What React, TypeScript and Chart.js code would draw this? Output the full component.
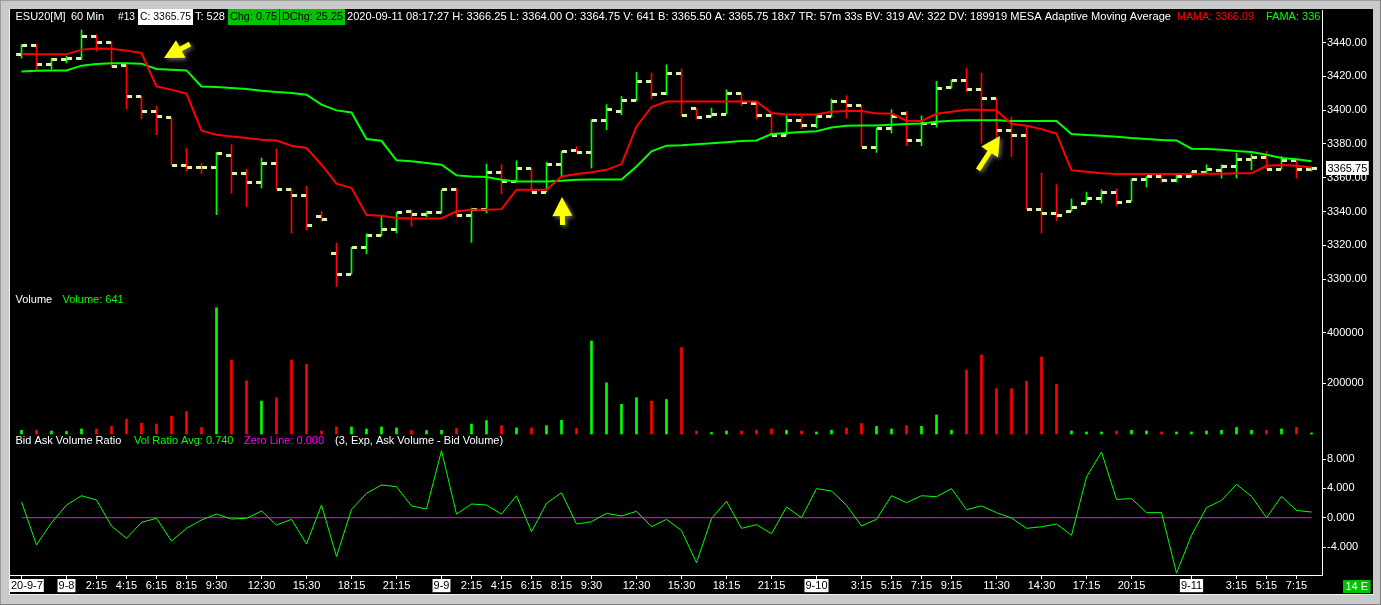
import React, { useEffect, useRef } from "react";
import { Chart, registerables } from "chart.js";

Chart.register(...registerables);

const W = 1381;
const H = 605;
const FONT = "'Liberation Sans', Arial, Helvetica, sans-serif";

// ---------- categories (60 min bars) ----------
const barTimes = [
  "21:15", "22:15", "23:15",
  "0:15", "1:15", "2:15", "3:15", "4:15", "5:15", "6:15", "7:15", "8:15", "9:15", "9:30", "10:30", "11:30", "12:30", "13:30", "14:30", "15:30", "16:15", "17:15", "18:15", "19:15", "20:15", "21:15", "22:15", "23:15",
  "0:15", "1:15", "2:15", "3:15", "4:15", "5:15", "6:15", "7:15", "8:15", "9:15", "9:30", "10:30", "11:30", "12:30", "13:30", "14:30", "15:30", "16:15", "17:15", "18:15", "19:15", "20:15", "21:15", "22:15", "23:15",
  "0:15", "1:15", "2:15", "3:15", "4:15", "5:15", "6:15", "7:15", "8:15", "9:15", "9:30", "10:30", "11:30", "12:30", "13:30", "14:30", "15:30", "16:15", "17:15", "18:15", "19:15", "20:15", "21:15", "22:15", "23:15",
  "0:15", "1:15", "2:15", "3:15", "4:15", "5:15", "6:15", "7:15", "8:15",
];
const sessionStartIdx = [0, 3, 28, 53, 78];
const sessionLabels = ["20-9-7", "9-8", "9-9", "9-10", "9-11"];
const labeledIdx = [0, 3, 5, 7, 9, 11, 13, 16, 19, 22, 25, 28, 30, 32, 34, 36, 38, 41, 44, 47, 50, 53, 56, 58, 60, 62, 65, 68, 71, 74, 78, 81, 83, 85];

// ---------- OHLC ----------
const openP = [
  3432.9, 3438.2, 3427.0, 3430.3, 3430.9, 3443.7, 3440.4, 3426.4, 3408.2, 3399.1,
  3395.4, 3367.5, 3366.0, 3365.9, 3373.2, 3362.8, 3357.4, 3368.3, 3353.3, 3349.3,
  3337.1, 3315.4, 3302.9, 3318.9, 3325.6, 3329.6, 3340.1, 3338.1, 3339.5, 3352.9,
  3337.5, 3341.0, 3363.4, 3357.8, 3365.7, 3351.5, 3368.1, 3376.0, 3375.2, 3393.8,
  3399.5, 3405.6, 3417.3, 3409.8, 3422.0, 3401.3, 3396.0, 3397.7, 3410.2, 3404.2,
  3397.1, 3385.3, 3393.8, 3391.2, 3396.0, 3405.2, 3402.7, 3378.2, 3389.4, 3398.3,
  3381.9, 3392.0, 3413.7, 3417.5, 3412.1, 3407.2, 3387.9, 3384.9, 3341.4, 3339.1,
  3340.1, 3345.0, 3348.0, 3351.5, 3346.0, 3359.2, 3360.8, 3358.2, 3360.8, 3363.2,
  3364.0, 3366.7, 3370.9, 3371.7, 3365.1, 3370.1, 3364.75,
];
const highP = [
  3438.8, 3438.8, 3430.9, 3431.9, 3447.5, 3444.7, 3440.6, 3426.8, 3408.2, 3402.3,
  3395.6, 3377.6, 3368.7, 3375.0, 3379.6, 3365.1, 3371.7, 3377.0, 3353.5, 3354.9,
  3340.1, 3321.3, 3318.9, 3326.8, 3337.1, 3339.5, 3341.0, 3339.9, 3352.9, 3353.9,
  3342.0, 3368.1, 3367.7, 3370.1, 3365.7, 3369.1, 3375.6, 3378.6, 3394.4, 3403.3,
  3408.2, 3422.4, 3422.0, 3426.9, 3424.4, 3401.3, 3401.3, 3412.1, 3410.2, 3405.2,
  3398.3, 3396.7, 3396.7, 3396.7, 3406.6, 3408.6, 3403.3, 3389.4, 3400.3, 3399.3,
  3396.7, 3417.1, 3418.0, 3425.0, 3422.0, 3407.2, 3396.0, 3390.4, 3362.8, 3355.9,
  3347.4, 3351.5, 3352.9, 3353.3, 3359.2, 3360.8, 3362.8, 3361.6, 3363.6, 3367.7,
  3367.7, 3374.6, 3374.0, 3375.6, 3372.6, 3370.1, 3366.25,
];
const lowP = [
  3430.9, 3424.4, 3424.4, 3428.0, 3430.0, 3434.9, 3425.8, 3400.7, 3394.8, 3385.5,
  3367.5, 3363.8, 3362.4, 3338.1, 3350.9, 3343.0, 3353.9, 3353.3, 3327.2, 3329.2,
  3334.1, 3295.6, 3302.9, 3315.0, 3325.6, 3327.2, 3331.2, 3337.0, 3339.0, 3337.1,
  3321.7, 3339.1, 3350.5, 3357.8, 3351.5, 3351.5, 3360.8, 3375.0, 3365.7, 3388.4,
  3397.3, 3405.6, 3406.6, 3409.2, 3396.7, 3394.8, 3396.0, 3397.7, 3402.7, 3394.8,
  3385.0, 3385.3, 3389.2, 3389.5, 3396.0, 3395.4, 3378.2, 3375.0, 3386.5, 3379.0,
  3379.0, 3390.0, 3413.0, 3411.2, 3380.5, 3383.5, 3372.6, 3341.4, 3327.2, 3334.7,
  3340.1, 3345.0, 3345.0, 3343.4, 3346.0, 3354.5, 3357.4, 3357.4, 3360.4, 3362.8,
  3359.8, 3359.8, 3364.7, 3365.1, 3365.1, 3359.8, 3364.0,
];
const closeP = [
  3438.2, 3427.0, 3430.3, 3430.9, 3443.4, 3440.4, 3426.0, 3408.2, 3399.1, 3396.0,
  3367.5, 3366.3, 3365.8, 3374.2, 3362.8, 3356.9, 3368.3, 3353.3, 3349.3, 3332.0,
  3335.5, 3302.9, 3318.9, 3325.6, 3329.6, 3339.5, 3338.1, 3339.5, 3352.9, 3337.5,
  3341.0, 3363.4, 3357.8, 3365.7, 3351.5, 3368.1, 3375.6, 3375.2, 3393.8, 3400.3,
  3405.6, 3417.3, 3409.2, 3422.0, 3396.7, 3395.4, 3397.7, 3410.2, 3404.6, 3397.1,
  3385.3, 3393.8, 3391.2, 3396.3, 3405.2, 3402.7, 3378.2, 3389.4, 3396.3, 3381.9,
  3392.0, 3413.1, 3417.5, 3412.1, 3407.2, 3387.9, 3384.9, 3341.4, 3339.1, 3337.7,
  3342.2, 3347.6, 3351.5, 3345.6, 3359.2, 3360.8, 3358.2, 3360.8, 3363.6, 3364.8,
  3366.7, 3370.9, 3371.7, 3365.1, 3370.1, 3365.1, 3365.75,
];

// ---------- MESA adaptive moving average ----------
const mama = [
  3433.5, 3433.1, 3433.1, 3433.1, 3435.9, 3436.6, 3436.4, 3435.3, 3433.9, 3414.1,
  3412.2, 3409.8, 3387.9, 3385.5, 3384.5, 3383.5, 3382.5, 3382.1, 3379.0, 3377.6,
  3367.7, 3356.5, 3353.9, 3337.9, 3337.5, 3336.1, 3335.9, 3335.9, 3335.9, 3340.1,
  3341.0, 3341.0, 3341.4, 3352.9, 3352.9, 3352.9, 3360.8, 3362.2, 3363.2, 3364.7,
  3368.1, 3390.4, 3401.9, 3405.2, 3405.2, 3405.2, 3405.2, 3405.2, 3405.2, 3405.2,
  3398.3, 3397.5, 3397.5, 3397.5, 3399.1, 3399.5, 3399.5, 3398.1, 3398.1, 3393.8,
  3393.6, 3397.9, 3399.1, 3400.3, 3400.3, 3399.9, 3392.0, 3390.8, 3388.8, 3386.1,
  3364.4, 3363.6, 3362.6, 3362.2, 3362.2, 3362.2, 3362.2, 3362.2, 3362.2, 3362.3,
  3362.4, 3362.6, 3362.6, 3367.1, 3367.5, 3367.1, 3366.09,
];
const fama = [
  3423.0, 3423.4, 3423.6, 3423.6, 3426.4, 3427.4, 3427.8, 3427.8, 3427.6, 3424.4,
  3424.0, 3423.6, 3414.1, 3413.7, 3413.1, 3412.5, 3411.6, 3410.8, 3410.2, 3409.2,
  3403.3, 3399.9, 3398.7, 3382.9, 3381.9, 3370.3, 3369.7, 3368.7, 3367.7, 3361.4,
  3360.8, 3360.4, 3358.8, 3357.8, 3357.8, 3357.8, 3358.2, 3358.8, 3359.0, 3359.0,
  3359.0, 3366.7, 3375.6, 3379.0, 3379.2, 3379.8, 3380.4, 3381.0, 3381.7, 3382.1,
  3385.9, 3386.5, 3387.1, 3387.5, 3389.8, 3390.8, 3391.0, 3391.0, 3391.4, 3391.8,
  3392.2, 3393.2, 3393.8, 3394.0, 3394.0, 3394.0, 3393.6, 3393.6, 3393.6, 3393.6,
  3385.9, 3385.3, 3384.9, 3384.3, 3383.5, 3382.9, 3382.3, 3382.1, 3377.2, 3377.0,
  3376.6, 3375.8, 3375.2, 3373.6, 3371.7, 3370.9, 3369.8,
];

// ---------- volume ----------
const volume = [
  15000, 15000, 12000, 10000, 20000, 20000, 30000, 59000, 43000, 39000,
  70000, 89000, 26000, 498000, 292000, 210000, 130000, 143000, 292000, 275000,
  12000, 28000, 28000, 20000, 28000, 24000, 14000, 14000, 15000, 22000,
  39000, 53000, 33000, 24000, 24000, 33000, 54000, 22000, 367000, 202000,
  117000, 143000, 130000, 136000, 341000, 12000, 6000, 12000, 12000, 15000,
  20000, 15000, 12000, 8000, 15000, 24000, 41000, 30000, 20000, 33000,
  30000, 75000, 15000, 252000, 312000, 179000, 179000, 209000, 304000, 196000,
  12000, 8000, 8000, 12000, 15000, 12000, 8000, 8000, 8000, 12000,
  15000, 26000, 15000, 15000, 20000, 26000, 641,
];

// ---------- bid/ask volume ratio ----------
const bidAskRatio = [
  2.18, -3.72, -0.68, 1.73, 3.0, 2.41, -1.13, -2.81, -0.63, -0.08,
  -3.18, -1.45, -0.31, 0.5, -0.18, -0.08, 0.91, -1.0, -0.22, -3.59,
  1.73, -5.3, 1.14, 3.33, 4.46, 4.23, 1.6, 1.19, 9.14, 0.5,
  1.87, 1.73, 0.5, 3.0, -1.91, 1.96, 3.41, -0.86, -0.55, 0.6,
  0.23, 0.87, -1.23, -0.22, -1.75, -6.14, -0.1, 2.23, -1.45, -0.95,
  -2.18, 1.46, 0.0, 3.96, 3.64, 1.68, -1.13, -0.22, 3.0, 2.05,
  3.0, 2.86, 3.96, 1.1, 1.6, 0.69, -0.04, -1.45, -1.23, -0.86,
  -2.4, 5.55, 8.96, 2.5, 2.6, 0.69, 0.69, -7.55, -2.4, 1.37,
  2.36, 4.55, 2.91, 0.0, 2.91, 1.0, 0.77,
];
const ratioZero = 0;

// ---------- axis ticks ----------
const priceTicks = [3300, 3320, 3340, 3360, 3380, 3400, 3420, 3440];
const volumeTicks = [200000, 400000];
const ratioTicks = [-4, 0, 4, 8];

// ---------- header texts ----------
const hdrSymbol = "ESU20[M]";
const hdrInterval = "60 Min";
const hdrBarNo = "#13";
const hdrTicks = "T: 528";
const hdrChg = "Chg: 0.75";
const hdrDChg = "DChg: 25.25";
const hdrInfo = "2020-09-11 08:17:27 H: 3366.25 L: 3364.00 O: 3364.75 V: 641 B: 3365.50 A: 3365.75 18x7 TR: 57m 33s BV: 319 AV: 322 DV: 189919 MESA Adaptive Moving Average";
const volTitle = "Volume";
const ratioTitle = "Bid Ask Volume Ratio";
const ratioAvgText = "Vol Ratio Avg: 0.740";
const ratioZeroText = "Zero Line: 0.000";
const ratioParams = "(3, Exp, Ask Volume - Bid Volume)";
const barCountTag = "14 E";

// ---------- annotation arrows (data coordinates: bar index, price) ----------
const arrowTipIdx = [9.5, 36.03, 65.23];
const arrowTipPrice = [3430.9, 3348.6, 3384.7];
const arrowTailIdx = [11.23, 36.07, 63.77];
const arrowTailPrice = [3439.2, 3332.0, 3364.6];

// ---------- scale ranges (three stacked panels sharing one right-hand column) ----------
const X_MIN = -0.76667;
const X_MAX = 86.7;
const PRICE_MIN = 3293.5;
const PRICE_MAX = 3459.37;
const VOL_MIN = -7890;
const VOL_MAX = 568051;
const RATIO_MIN = -7.81;
const RATIO_MAX = 11.14;
const PANEL_WEIGHTS = [280, 146, 139];

const UP = "#00ff00";
const DOWN = "#ff0000";
const TICK = "#d6f3a6";

function makeSprite(start: number) {
  const c = document.createElement("canvas");
  c.width = 13;
  c.height = 3;
  const g = c.getContext("2d")!;
  g.fillStyle = TICK;
  g.fillRect(start, 0, 5, 3);
  return c;
}

const overlayPlugin = {
  id: "tsOverlay",
  beforeDraw(chart: any) {
    const ctx = chart.ctx;
    ctx.save();
    ctx.fillStyle = "#cacaca";
    ctx.fillRect(0, 0, W, H);
    ctx.fillStyle = "#9c9c9c";
    ctx.fillRect(0, 0, W, 1);
    ctx.fillRect(0, 0, 1, H);
    ctx.fillStyle = "#808080";
    ctx.fillRect(W - 1, 0, 1, H);
    ctx.fillRect(0, H - 1, W, 1);
    ctx.fillStyle = "#f2f2f2";
    ctx.fillRect(9, 9, 1, 586);
    ctx.fillRect(9, 594, 1365, 1);
    ctx.fillStyle = "#000000";
    ctx.fillRect(10, 9, 1363, 585);
    ctx.restore();
  },
  afterDraw(chart: any) {
    const { ctx, chartArea: ca, scales } = chart;
    const xs = scales.x;
    const yp = scales.yPrice;
    const n = closeP.length;
    ctx.save();
    ctx.font = `11px ${FONT}`;
    ctx.textBaseline = "middle";
    ctx.textAlign = "left";

    const txt = (s: string, x: number, c: string, y: number, maxW?: number) => {
      ctx.fillStyle = c;
      if (maxW) ctx.fillText(s, x, y, maxW);
      else ctx.fillText(s, x, y);
    };

    // header row
    ctx.save();
    ctx.beginPath();
    ctx.rect(ca.left, 0, ca.right - ca.left - 1, 40);
    ctx.clip();
    const hy = 17;
    txt(hdrSymbol, 15.5, "#ffffff", hy, 51);
    txt(hdrInterval, 71, "#ffffff", hy, 36);
    txt(hdrBarNo, 118, "#ffffff", hy, 17);
    ctx.fillStyle = "#ffffff";
    ctx.fillRect(138, 9, 55, 16);
    txt(`C: ${closeP[n - 1].toFixed(2)}`, 140, "#000000", hy, 51);
    txt(hdrTicks, 195, "#ffffff", hy, 31);
    ctx.fillStyle = "#00c400";
    ctx.fillRect(228, 9, 51, 16);
    ctx.fillRect(280, 9, 65, 16);
    txt(hdrChg, 230, "#000000", hy, 47);
    txt(hdrDChg, 282, "#000000", hy, 61);
    const infoW = ctx.measureText(hdrInfo).width;
    ctx.save();
    ctx.translate(347, hy);
    ctx.scale(824 / infoW, 1);
    ctx.fillStyle = "#ffffff";
    ctx.fillText(hdrInfo, 0, 0);
    ctx.restore();
    txt(`MAMA: ${mama[n - 1].toFixed(2)}`, 1177, "#ff0000", hy, 77);
    txt(`FAMA: ${fama[n - 1].toFixed(2)}`, 1266, "#00ff00", hy, 77);
    ctx.restore();

    // panel titles
    txt(volTitle, 15.5, "#ffffff", 300);
    txt(`Volume: ${volume[n - 1]}`, 62.5, "#00ff00", 300);
    txt(ratioTitle, 15.5, "#ffffff", 441);
    txt(ratioAvgText, 134, "#00ff00", 441);
    txt(ratioZeroText, 244, "#ff00ff", 441);
    txt(ratioParams, 335, "#ffffff", 441);

    // arrows
    ctx.save();
    ctx.fillStyle = "#ffff00";
    ctx.shadowColor = "rgba(150,150,150,0.7)";
    ctx.shadowBlur = 4;
    ctx.shadowOffsetX = 2;
    ctx.shadowOffsetY = 2;
    for (let k = 0; k < arrowTipIdx.length; k++) {
      const tx = xs.getPixelForValue(arrowTipIdx[k]);
      const ty = yp.getPixelForValue(arrowTipPrice[k]);
      const sx = xs.getPixelForValue(arrowTailIdx[k]);
      const sy = yp.getPixelForValue(arrowTailPrice[k]);
      const len = Math.hypot(tx - sx, ty - sy);
      const ux = (tx - sx) / len;
      const uy = (ty - sy) / len;
      const nx = -uy;
      const ny = ux;
      const hl = 19;
      const hw = 10;
      const sw = 2.5;
      const bx = tx - ux * hl;
      const by = ty - uy * hl;
      ctx.beginPath();
      ctx.moveTo(tx, ty);
      ctx.lineTo(bx + nx * hw, by + ny * hw);
      ctx.lineTo(bx + nx * sw, by + ny * sw);
      ctx.lineTo(sx + nx * sw, sy + ny * sw);
      ctx.lineTo(sx - nx * sw, sy - ny * sw);
      ctx.lineTo(bx - nx * sw, by - ny * sw);
      ctx.lineTo(bx - nx * hw, by - ny * hw);
      ctx.closePath();
      ctx.fill();
    }
    ctx.restore();

    // last price marker on the price axis
    const lastY = yp.getPixelForValue(closeP[n - 1]);
    const lastTxt = closeP[n - 1].toFixed(2);
    const lw = ctx.measureText(lastTxt).width;
    ctx.fillStyle = "#ffffff";
    ctx.fillRect(ca.right + 4, Math.round(lastY) - 7, lw + 3, 14);
    txt(lastTxt, ca.right + 5.5, "#000000", lastY + 0.5);

    // first date label (clamped to the plot's left edge)
    const firstLbl = sessionLabels[0];
    const fw = ctx.measureText(firstLbl).width;
    ctx.fillStyle = "#ffffff";
    ctx.fillRect(ca.left, 579, fw + 2, 13);
    txt(firstLbl, ca.left + 1, "#000000", 585.6);

    // bar count tag
    const tw = ctx.measureText(barCountTag).width;
    ctx.fillStyle = "#00c000";
    ctx.fillRect(1343, 580, tw + 5, 13);
    txt(barCountTag, 1345.5, "#ffffff", 586.5);

    ctx.restore();
  },
};

export default function App() {
  const ref = useRef<HTMLCanvasElement | null>(null);

  useEffect(() => {
    const canvas = ref.current;
    if (!canvas) return;
    Chart.defaults.font.family = FONT;
    Chart.defaults.font.size = 11;

    const openSprite = makeSprite(1);
    const closeSprite = makeSprite(7);
    const idx = barTimes.map((_, i) => i);
    const barColors = idx.map((i) => (closeP[i] >= openP[i] ? UP : DOWN));
    const isSession = (v: number) => sessionStartIdx.indexOf(v) >= 0;
    const xLabel = (v: number) => {
      const s = sessionStartIdx.indexOf(v);
      if (v === sessionStartIdx[0]) return "";
      if (s >= 0) return sessionLabels[s];
      return barTimes[v] ?? "";
    };
    const tickFont = { family: FONT, size: 11 };
    const yGrid = { drawOnChartArea: false, drawTicks: true, tickLength: 4, color: "#ffffff" };
    const yBorder = { display: true, color: "#ffffff", width: 1 };
    const fixWidth = (s: any) => {
      s.width = 51;
    };

    const chart = new Chart(canvas, {
      type: "bar",
      data: {
        datasets: [
          {
            type: "line",
            label: "MAMA",
            data: idx.map((i) => ({ x: i, y: mama[i] })),
            yAxisID: "yPrice",
            borderColor: "#ff0000",
            borderWidth: 2,
            pointRadius: 0,
            tension: 0,
            order: 1,
          },
          {
            type: "line",
            label: "FAMA",
            data: idx.map((i) => ({ x: i, y: fama[i] })),
            yAxisID: "yPrice",
            borderColor: "#00ff00",
            borderWidth: 2,
            pointRadius: 0,
            tension: 0,
            order: 2,
          },
          {
            type: "line",
            label: "Open",
            data: idx.map((i) => ({ x: i, y: openP[i] })),
            yAxisID: "yPrice",
            showLine: false,
            pointStyle: openSprite,
            pointRadius: 3,
            pointBorderWidth: 0,
            order: 3,
          },
          {
            type: "line",
            label: "Close",
            data: idx.map((i) => ({ x: i, y: closeP[i] })),
            yAxisID: "yPrice",
            showLine: false,
            pointStyle: closeSprite,
            pointRadius: 3,
            pointBorderWidth: 0,
            order: 3,
          },
          {
            type: "bar",
            label: "High-Low",
            data: idx.map((i) => ({ x: i, y: [lowP[i], highP[i]] })),
            yAxisID: "yPrice",
            backgroundColor: barColors,
            borderWidth: 0,
            barThickness: 1,
            grouped: false,
            order: 4,
          },
          {
            type: "bar",
            label: "Volume",
            data: idx.map((i) => ({ x: i, y: volume[i] })),
            yAxisID: "yVol",
            backgroundColor: barColors,
            borderWidth: 0,
            barThickness: 2,
            minBarLength: 1,
            grouped: false,
            order: 5,
          },
          {
            type: "line",
            label: "Zero Line",
            data: idx.map((i) => ({ x: i, y: ratioZero })),
            yAxisID: "yRatio",
            borderColor: "#ff00ff",
            borderWidth: 1,
            pointRadius: 0,
            order: 7,
          },
          {
            type: "line",
            label: "Bid Ask Volume Ratio",
            data: idx.map((i) => ({ x: i, y: bidAskRatio[i] })),
            yAxisID: "yRatio",
            borderColor: "#00ff00",
            borderWidth: 1,
            pointRadius: 0,
            tension: 0,
            order: 6,
          },
        ],
      } as any,
      options: {
        responsive: false,
        animation: false,
        devicePixelRatio: 1,
        events: [],
        layout: { padding: { left: 10, top: 10, right: 8, bottom: 11 } },
        plugins: {
          legend: { display: false },
          tooltip: { enabled: false },
          title: { display: false },
        },
        scales: {
          x: {
            type: "linear",
            position: "bottom",
            min: X_MIN,
            max: X_MAX,
            offset: false,
            afterFit: (s: any) => {
              s.height = 19;
            },
            afterBuildTicks: (s: any) => {
              s.ticks = labeledIdx.map((v) => ({ value: v }));
            },
            border: { display: true, color: "#ffffff", width: 1 },
            grid: { display: true, offset: false, drawOnChartArea: false, drawTicks: true, tickLength: 4, color: "#ffffff" },
            ticks: {
              autoSkip: false,
              maxRotation: 0,
              minRotation: 0,
              padding: 0,
              font: tickFont,
              color: (c: any) => (isSession(c.tick?.value) ? "#000000" : "#ffffff"),
              showLabelBackdrop: true,
              backdropColor: (c: any) =>
                isSession(c.tick?.value) && c.tick?.value !== sessionStartIdx[0] ? "#ffffff" : "rgba(0,0,0,0)",
              backdropPadding: { left: 1, right: 1, top: 0, bottom: 0 },
              callback: (v: any) => xLabel(Number(v)),
            },
          },
          yPrice: {
            type: "linear",
            position: "right",
            stack: "rightColumn",
            stackWeight: PANEL_WEIGHTS[0],
            weight: 1,
            min: PRICE_MIN,
            max: PRICE_MAX,
            afterFit: fixWidth,
            afterBuildTicks: (s: any) => {
              s.ticks = priceTicks.map((v) => ({ value: v }));
            },
            border: yBorder,
            grid: yGrid,
            ticks: { autoSkip: false, padding: 1, color: "#ffffff", font: tickFont, callback: (v: any) => Number(v).toFixed(2) },
          },
          yVol: {
            type: "linear",
            position: "right",
            stack: "rightColumn",
            stackWeight: PANEL_WEIGHTS[1],
            weight: 2,
            min: VOL_MIN,
            max: VOL_MAX,
            afterFit: fixWidth,
            afterBuildTicks: (s: any) => {
              s.ticks = volumeTicks.map((v) => ({ value: v }));
            },
            border: yBorder,
            grid: yGrid,
            ticks: { autoSkip: false, padding: 1, color: "#ffffff", font: tickFont, callback: (v: any) => String(Math.round(Number(v))) },
          },
          yRatio: {
            type: "linear",
            position: "right",
            stack: "rightColumn",
            stackWeight: PANEL_WEIGHTS[2],
            weight: 3,
            min: RATIO_MIN,
            max: RATIO_MAX,
            afterFit: fixWidth,
            afterBuildTicks: (s: any) => {
              s.ticks = ratioTicks.map((v) => ({ value: v }));
            },
            border: yBorder,
            grid: yGrid,
            ticks: { autoSkip: false, padding: 1, color: "#ffffff", font: tickFont, callback: (v: any) => Number(v).toFixed(3) },
          },
        },
      } as any,
      plugins: [overlayPlugin],
    });
    return () => chart.destroy();
  }, []);

  return (
    <div style={{ position: "fixed", left: 0, top: 0, width: W, height: H, background: "#cacaca" }}>
      <canvas ref={ref} width={W} height={H} style={{ display: "block", width: W, height: H }} />
    </div>
  );
}
